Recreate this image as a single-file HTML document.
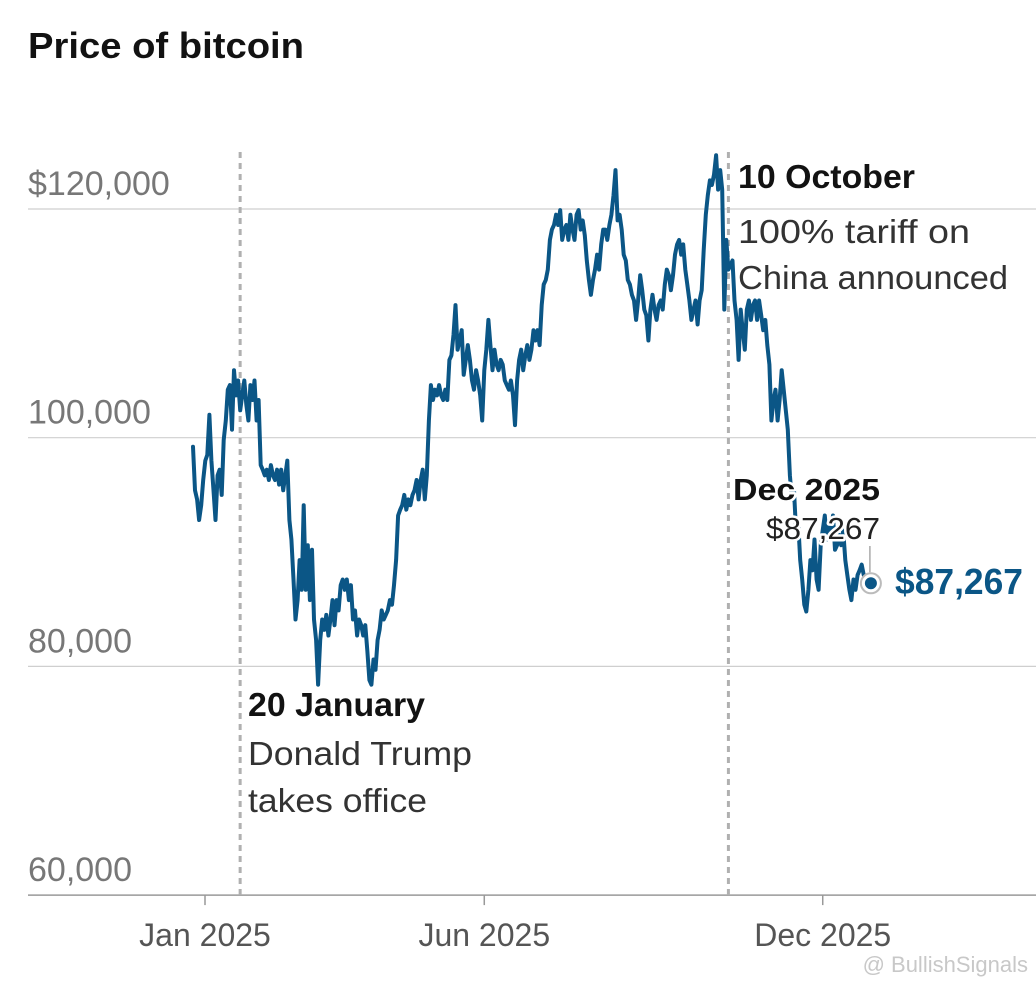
<!DOCTYPE html>
<html><head><meta charset="utf-8"><style>
html,body{margin:0;padding:0;background:#fff;}
svg{display:block;font-family:"Liberation Sans",sans-serif;}
</style></head><body>
<svg id="chart" width="1036" height="988" viewBox="0 0 1036 988">
<text x="28" y="58" font-size="36" font-weight="bold" fill="#121212" textLength="276" lengthAdjust="spacingAndGlyphs">Price of bitcoin</text>
<g id="grid"></g>
<g id="annot-lines"></g>
<path id="line" fill="none" stroke="#0b5686" stroke-width="4" stroke-linejoin="round" stroke-linecap="round"/>
<g id="labels"></g>
<text x="1028" y="972" font-size="22" fill="#c8c8c8" text-anchor="end">@ BullishSignals</text>
</svg>
<script>
const yTicks = [60000, 80000, 100000, 120000];
const yTickLabels = ["60,000", "80,000", "100,000", "$120,000"];
const xTickDays = [0, 151, 334];
const xTickLabels = ["Jan 2025", "Jun 2025", "Dec 2025"];
const startDay = -6.5;
const endDay = 359.5;
const eventDays = [19, 283];
const prices = [99.2,95.4,94.6,92.8,94.1,96.3,98.0,98.5,102.0,98.0,95.4,92.8,96.7,97.2,95.0,99.8,101.5,104.2,104.6,100.7,105.9,103.7,105.0,102.4,103.7,105.0,102.9,101.5,104.6,103.3,105.0,101.5,103.3,97.6,97.2,96.7,97.2,96.3,97.6,96.7,96.3,97.2,95.9,97.2,95.4,96.7,98.0,92.8,91.1,87.6,84.1,85.8,89.3,86.7,94.1,86.7,90.6,85.8,90.2,84.1,82.3,78.4,82.3,84.1,83.2,84.5,82.7,84.1,85.8,83.6,85.8,84.9,87.1,87.6,86.7,87.6,85.8,87.1,84.1,84.9,82.7,84.1,83.6,82.7,83.6,81.4,78.8,78.4,80.6,79.7,82.3,83.2,84.9,84.1,84.5,84.9,85.8,85.4,87.1,89.3,93.2,93.7,94.1,95.0,93.7,94.6,94.1,95.0,95.4,96.3,94.6,96.3,97.2,94.6,96.7,101.5,104.6,103.3,104.2,103.7,104.6,103.7,103.3,104.2,103.3,106.8,107.2,109.0,111.6,107.7,108.5,109.4,105.5,106.8,108.1,106.8,105.0,104.2,105.9,105.0,103.7,101.5,105.9,107.7,110.3,108.1,105.9,107.7,106.4,105.9,106.8,106.4,105.0,104.6,104.2,105.0,103.7,101.1,105.0,106.8,107.7,105.9,107.2,108.1,106.8,107.7,109.4,108.5,109.4,108.1,111.6,113.4,113.8,114.7,117.3,118.2,118.6,119.5,118.6,119.9,117.3,118.2,118.6,117.3,119.5,118.2,117.3,119.5,119.9,118.2,119.0,117.7,115.5,113.8,112.5,113.8,114.7,116.0,114.7,116.9,118.2,118.2,117.3,118.6,119.5,121.2,123.4,119.0,119.5,118.2,116.0,115.5,113.8,113.4,112.5,112.0,110.3,112.0,114.2,112.9,111.2,110.7,108.5,111.2,112.5,111.2,110.3,111.6,112.0,111.2,113.4,114.7,114.2,112.9,114.2,116.0,116.9,117.3,116.0,116.9,114.7,113.4,112.0,110.3,111.2,112.0,109.9,112.0,112.9,116.4,119.5,121.2,122.5,122.1,123.0,124.7,121.7,123.4,121.7,111.2,117.3,114.7,115.1,115.5,112.0,110.3,106.8,111.2,109.4,107.7,111.2,112.0,110.3,111.6,112.0,110.3,112.0,110.7,109.4,110.3,108.1,106.4,101.5,103.3,104.2,101.5,103.3,105.9,104.2,102.4,100.7,96.7,94.6,95.4,91.9,92.8,89.3,87.6,85.4,84.8,86.7,89.3,88.4,91.1,87.6,86.7,90.6,91.9,93.2,91.1,92.4,91.9,93.2,90.2,90.6,91.5,90.6,91.9,89.3,88.0,86.7,85.8,87.6,86.7,88.0,88.4,88.9,88.0,87.6,88.0,87.267];

const NS = "http://www.w3.org/2000/svg";
const X = d => 205 + 1.8495 * d;
const Y = p => 209 + (120000 - p) * 228.7 / 20000;
function mk(tag, attrs, parent, text) {
  const e = document.createElementNS(NS, tag);
  for (const k in attrs) e.setAttribute(k, attrs[k]);
  if (text !== undefined) e.textContent = text;
  parent.appendChild(e);
  return e;
}
const grid = document.getElementById("grid");
yTicks.forEach((t, i) => {
  const y = Y(t);
  const l = mk("line", {x1: 28, x2: 1036, y1: y, y2: y, stroke: i === 0 ? "#999" : "#cfcfcf", "stroke-width": i === 0 ? 1.5 : 1.2}, grid);
  
  
  const tx = mk("text", {x: 28, y: y - 14, "font-size": 34, fill: "#777"}, grid, yTickLabels[i]);
  
  
});
xTickDays.forEach((d, i) => {
  const x = X(d);
  const tk = mk("line", {x1: x, x2: x, y1: Y(60000), y2: Y(60000) + 10, stroke: "#999", "stroke-width": 1.5}, grid);
  
  
  const tx = mk("text", {x: x, y: 946, "font-size": 32, fill: "#555", "text-anchor": "middle"}, grid, xTickLabels[i]);
  
  
});
const al = document.getElementById("annot-lines");
eventDays.forEach(d => {
  const l = mk("line", {x1: X(d), x2: X(d), y1: 152, y2: 895, stroke: "#b0b0b0", "stroke-width": 3, "stroke-dasharray": "6 5"}, al);
  
  
});
const n = prices.length;
let dstr = "";
prices.forEach((p, i) => {
  const day = startDay + i * (endDay - startDay) / (n - 1);
  dstr += (i ? "L" : "M") + X(day).toFixed(1) + "," + Y(p * 1000).toFixed(1);
});
document.getElementById("line").setAttribute("d", dstr);

const lb = document.getElementById("labels");
const lastX = X(endDay), lastY = Y(prices[n - 1] * 1000);
function txt(x, y, s, size, w, fill, name, len, halo) {
  if (halo) {
    const h = mk("text", {x: x, y: y, "font-size": size, "font-weight": w, fill: "#fff", stroke: "#fff", "stroke-width": 5, "stroke-linejoin": "round", textLength: len, lengthAdjust: "spacingAndGlyphs"}, lb, s);
    
    
  }
  const t = mk("text", {x: x, y: y, "font-size": size, "font-weight": w, fill: fill, textLength: len, lengthAdjust: "spacingAndGlyphs"}, lb, s);
  
  
}
txt(738, 188, "10 October", 33, "bold", "#121212", "annotation-oct-title", 177, true);
txt(738, 243, "100% tariff on", 33, "normal", "#333", "annotation-oct-text", 232, true);
txt(738, 289, "China announced", 33, "normal", "#333", "annotation-oct-text", 270, true);
txt(248, 716, "20 January", 33, "bold", "#121212", "annotation-jan-title", 177, true);
txt(248, 765, "Donald Trump", 33, "normal", "#333", "annotation-jan-text", 224, true);
txt(248, 812, "takes office", 33, "normal", "#333", "annotation-jan-text", 179, true);
txt(733, 500, "Dec 2025", 31, "bold", "#121212", "last-point-date", 147, true);
txt(766, 539, "$87,267", 31, "normal", "#222", "last-point-price", 114, true);
const leader = mk("line", {x1: lastX, x2: lastX, y1: 546, y2: lastY - 11, stroke: "#aaa", "stroke-width": 1.5}, lb);


const ring = mk("circle", {cx: lastX + 1, cy: lastY, r: 10, fill: "#fff", stroke: "#bbb", "stroke-width": 2}, lb);


const dot = mk("circle", {cx: lastX + 1, cy: lastY, r: 6, fill: "#0b5686"}, lb);


txt(895, 594, "$87,267", 36, "bold", "#0b5686", "last-value-label", 128, false);
</script>
</body></html>
